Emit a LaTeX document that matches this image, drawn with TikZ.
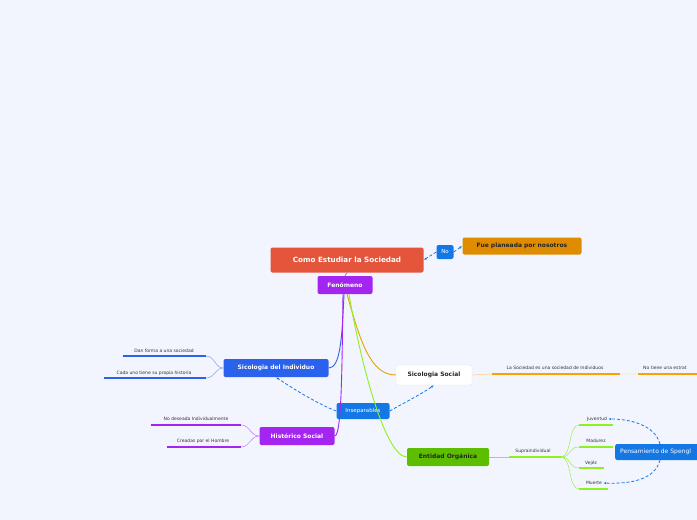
\documentclass[tikz,border=0pt]{standalone}
\usepackage{fontspec}
\setmainfont{DejaVu Sans}
\usetikzlibrary{arrows.meta}
\definecolor{bg}{HTML}{F2F5FE}
\definecolor{cred}{HTML}{E4553C}
\definecolor{corg}{HTML}{E08C00}
\definecolor{cpur}{HTML}{A424F0}
\definecolor{cblu}{HTML}{2A62EE}
\definecolor{cdb}{HTML}{1477E6}
\definecolor{cgrn}{HTML}{5DBE00}
\definecolor{lgrn}{HTML}{8EF020}
\definecolor{lorg}{HTML}{FFA000}
\tikzset{
 box/.style={rounded corners=2pt,inner sep=0pt,text=white,font=\bfseries\fontsize{6}{7}\selectfont},
 leaf/.style={inner sep=1pt,font=\fontsize{4.5}{5}\selectfont,text=black!80},
 dsh/.style={draw=cdb,densely dashed,thick,-{Latex[length=3pt]}},
 br/.style={line width=0.9pt},
}
\begin{document}
\begin{tikzpicture}[x=1pt,y=-1pt]
\useasboundingbox[fill=bg] (0,0) rectangle (697,520);
\node[box,fill=cred,minimum width=153,minimum height=25,font=\bfseries\fontsize{7.2}{8}\selectfont] (main) at (347,260) {Como Estudiar la Sociedad};
\node[box,fill=cdb,minimum width=17,minimum height=14,font=\fontsize{5.5}{6}\selectfont] (no) at (445,252) {No};
\node[box,fill=corg,text=black!85,minimum width=119,minimum height=17] (fue) at (522,246) {Fue planeada por nosotros};
\node[box,fill=cpur,minimum width=55,minimum height=18] (fen) at (345,285) {Fenómeno};
\node[box,fill=cblu,minimum width=105,minimum height=18] (sind) at (276,368) {Sicologia del Individuo};
\node[box,fill=cpur,minimum width=75,minimum height=18] (hist) at (297,436) {Histórico Social};
\node[box,fill=cdb,minimum width=53,minimum height=16,font=\fontsize{5.5}{6}\selectfont] (ins) at (363,411) {Inseparables};
\node[box,fill=white,draw=black!10,text=black!85,minimum width=76,minimum height=20] (ssoc) at (434,375) {Sicologia Social};
\node[box,fill=cgrn,text=black!85,minimum width=82,minimum height=18] (ent) at (448,457) {Entidad Orgánica};
\node[box,fill=cdb,minimum width=100,minimum height=16,anchor=west,font=\fontsize{6}{7}\selectfont,align=left,text width=96] (spe) at (615,452) {\hspace*{3pt}Pensamiento de Spengl};
% leaves
\node[leaf] (l1) at (164,351) {Dan forma a una sociedad};
\node[leaf] (l2) at (154,373) {Cada uno tiene su propia historia};
\node[leaf] (l3) at (196,419) {No deseada Individualmente};
\node[leaf] (l4) at (203,441) {Creadas por el Hombre};
\node[leaf] (l5) at (555,368) {La Sociedad es una sociedad de Individuos};
\node[leaf,anchor=west] (l6) at (642,368) {No tiene una estrat};
\node[leaf] (l7) at (533,451) {Supraindividual};
\node[leaf] (j) at (597,419) {Juventud};
\node[leaf] (m) at (596,441) {Madurez};
\node[leaf] (v) at (591,463) {Vejéz};
\node[leaf] (mu) at (594,483) {Muerte};
% underlines
\draw[cblu,line width=1.6pt] (123,356)--(206,356) (104,378)--(206,378);
\draw[cpur,line width=1.6pt] (151,425)--(241,425) (167,447)--(241,447);
\draw[lorg,line width=1.6pt] (492,374)--(620,374) (638,374)--(697,374);
\draw[lgrn,line width=1.6pt] (509,457)--(561,457) (579,425)--(613,425) (579,447)--(613,447) (579,468)--(604,468) (579,489)--(608,489);
% connectors
\draw[black!40,br] (main.south)--(fen.north);
\draw[cblu,br] (fen.south) ++(-1,0) .. controls (342,340) and (340,368) .. (sind.east);
\draw[cpur,br] (fen.south) ++(-2,0) .. controls (342,360) and (342,436) .. (hist.east);
\draw[corg!80!yellow,br] (fen.south) ++(2,0) .. controls (360,340) and (370,375) .. (ssoc.west);
\draw[lgrn,br] (fen.south) ++(4,0) .. controls (360,360) and (385,457) .. (ent.west);
\draw[cblu!70] (sind.west) .. controls (215,368) and (215,356) .. (206,356);
\draw[cblu!70] (sind.west) .. controls (215,368) and (215,378) .. (206,378);
\draw[cpur!70] (hist.west) .. controls (250,436) and (250,425) .. (241,425);
\draw[cpur!70] (hist.west) .. controls (250,436) and (250,447) .. (241,447);
\draw[lorg!60] (ssoc.east)--(492,374) (620,374)--(638,374);
\draw[lgrn] (ent.east)--(509,457);
\foreach \y in {425,447,468,489} \draw[lgrn] (561,457) .. controls (572,457) and (568,\y) .. (579,\y);
% dashed relations
\draw[dsh] (no.west)--(main.east);
\draw[dsh] (no.east)--(fue.west);
\draw[dsh] (ins.west) .. controls (320,405) and (295,390) .. (sind.south);
\draw[dsh] (ins.east) .. controls (400,405) and (420,395) .. (ssoc.south);
\draw[dsh] (660,444) .. controls (655,425) and (630,419) .. (j.east);
\draw[dsh] (660,460) .. controls (655,480) and (630,484) .. (mu.east);
\end{tikzpicture}
\end{document}
